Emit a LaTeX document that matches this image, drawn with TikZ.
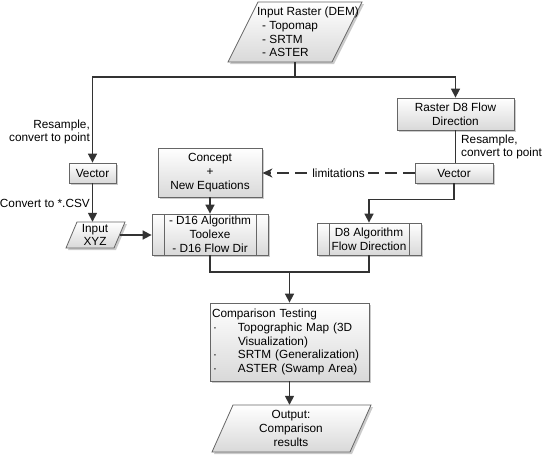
\documentclass[tikz,border=0pt]{standalone}
\usepackage{fontspec}
\setmainfont{Liberation Sans}
\usetikzlibrary{arrows.meta,shadows}
\begin{document}
\begin{tikzpicture}[x=1pt,y=-1pt,
  every node/.style={font=\fontsize{11.8}{13.8}\selectfont, text=black},
  shade/.style={draw=black!60, line width=0.8pt, top color=white, bottom color=black!15,
    drop shadow={shadow xshift=2pt, shadow yshift=-2pt, opacity=0.45, fill=black!45}},
  box/.style={shade, rectangle, inner sep=0pt, align=center},
  procbox/.style={box, path picture={
    \draw[draw=black!60, line width=0.8pt]
      ([xshift=12pt]path picture bounding box.north west) -- ([xshift=12pt]path picture bounding box.south west)
      ([xshift=-12pt]path picture bounding box.north east) -- ([xshift=-12pt]path picture bounding box.south east);}},
  para/.style={shade},
  txt/.style={inner sep=0pt, align=center},
  lbl/.style={inner sep=0pt},
  conn/.style={draw=black!80, line width=1.6pt},
  arr/.style={conn, -{Triangle[length=9pt,width=9pt]}},
  darr/.style={conn, dash pattern=on 12pt off 6pt, -{Stealth[length=10pt,width=9pt,inset=3pt]}}
]
\useasboundingbox (0,0) rectangle (544,455);

% parallelogram shapes
\path[para] (258,2) -- (362,2) -- (332,62) -- (228,62) -- cycle;
\path[para] (77,222) -- (125,222) -- (114,248) -- (66,248) -- cycle;
\path[para] (233,405) -- (371,405) -- (350,452) -- (212,452) -- cycle;

% texts of parallelograms
\node[txt, align=left, anchor=west] (inp) at (257,32)
  {Input Raster (DEM)\\\hspace*{5pt}- Topomap\\\hspace*{5pt}- SRTM\\\hspace*{5pt}- ASTER};
\coordinate (inpb) at (295,62);
\node[txt, minimum width=49pt, minimum height=26pt] (xyz) at (95,235) {Input\\XYZ};
\node[txt, minimum height=47pt] (out) at (291,428.5) {Output:\\Comparison\\results};

% boxes
\node[box, minimum width=117pt, minimum height=32pt] (rast) at (455.5,114) {Raster D8 Flow\\Direction};
\node[box, minimum width=78pt, minimum height=20pt] (vecR) at (454,173) {Vector};
\node[box, minimum width=47pt, minimum height=20pt] (vecL) at (92.5,173) {Vector};
\node[box, minimum width=104pt, minimum height=49pt] (concept) at (210,172.5) {Concept\\+\\New Equations};
\node[procbox, minimum width=116pt, minimum height=41pt] (d16) at (210,234.5)
  {- D16 Algorithm\\Toolexe\\- D16 Flow Dir};
\node[procbox, minimum width=104pt, minimum height=32pt] (d8) at (369,239)
  {D8 Algorithm\\Flow Direction};
\node[box, minimum width=159pt, minimum height=78pt, text width=155pt, align=left] (cmp) at (289.5,342)
  {Comparison Testing\\
   \makebox[26pt][l]{\hspace*{1pt}·}Topographic Map (3D\\
   \hspace*{26pt}Visualization)\\
   \makebox[26pt][l]{\hspace*{1pt}·}SRTM (Generalization)\\
   \makebox[26pt][l]{\hspace*{1pt}·}ASTER (Swamp Area)};

% labels
\node[lbl, align=right, anchor=east] (lblL) at (90,132) {Resample,\\convert to point};
\node[lbl, align=left, anchor=west] (lblR) at (461,147) {Resample,\\convert to point};
\node[lbl, anchor=east] (lblcsv) at (90,203) {Convert to *.CSV};

% connectors
\draw[arr] (inpb) -- ++(0,15) -| (vecL.north);
\draw[arr] (inpb) -- ++(0,15) -| (rast.north);
\draw[arr] (vecL.south) -- (vecL.south |- xyz.north);
\draw[arr] (xyz.east) -- (xyz.east -| d16.west);
\draw[arr] (concept.south) -- (d16.north);
\draw[conn] (rast.south) -- (rast.south |- vecR.north);
\draw[darr] (vecR.west) -- node[fill=white, inner sep=3pt] (lim) {limitations} (vecR.west -| concept.east);
\draw[arr] (vecR.south) -- ++(0,16) -| (d8.north);
\coordinate (join) at (289.5,272);
\draw[conn] (d16.south) |- (join) -| (d8.south);
\draw[arr] (join) -- (cmp.north);
\draw[arr] (cmp.south) -- (cmp.south |- out.north);
\end{tikzpicture}
\end{document}
